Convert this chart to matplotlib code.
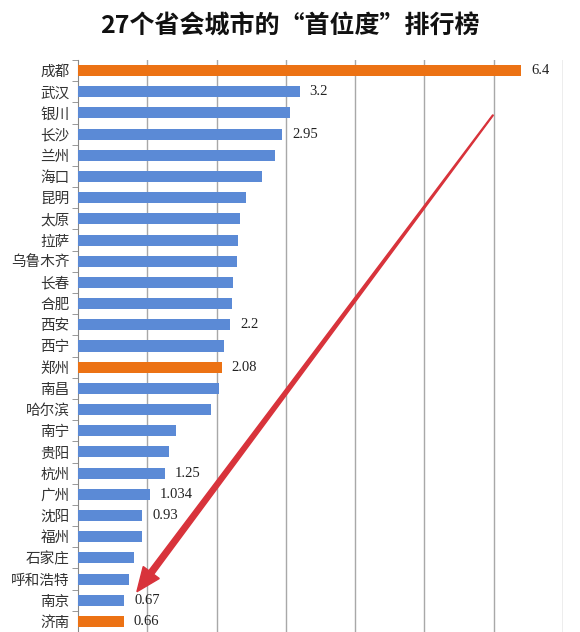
import matplotlib.pyplot as plt
from matplotlib.patches import Polygon
import numpy as np

plt.rcParams['font.family'] = ['Noto Sans CJK SC', 'DejaVu Sans']

cities = ['成都', '武汉', '银川', '长沙', '兰州', '海口', '昆明', '太原', '拉萨',
          '乌鲁木齐', '长春', '合肥', '西安', '西宁', '郑州', '南昌', '哈尔滨',
          '南宁', '贵阳', '杭州', '广州', '沈阳', '福州', '石家庄', '呼和浩特',
          '南京', '济南']
values = [6.4, 3.2, 3.06, 2.95, 2.85, 2.66, 2.42, 2.34, 2.31,
          2.30, 2.24, 2.22, 2.2, 2.10, 2.08, 2.03, 1.92,
          1.41, 1.32, 1.25, 1.034, 0.93, 0.92, 0.81, 0.73,
          0.67, 0.66]
highlight = ['成都', '郑州', '济南']
labels = {'成都': '6.4', '武汉': '3.2', '长沙': '2.95', '西安': '2.2',
          '郑州': '2.08', '杭州': '1.25', '广州': '1.034', '沈阳': '0.93',
          '南京': '0.67', '济南': '0.66'}

blue = '#5b8ad6'
orange = '#ec7214'

fig = plt.figure(figsize=(5.8, 6.32), dpi=100)
ax = fig.add_axes([78 / 580, 0.0, (563 - 78) / 580, 1 - 60 / 632])

y = np.arange(len(cities))
colors = [orange if c in highlight else blue for c in cities]
ax.barh(y, values, height=0.52, color=colors, zorder=3)

for i, (c, v) in enumerate(zip(cities, values)):
    if c in labels:
        ax.text(v + 0.14, i, labels[c], va='center', ha='left', fontsize=10.5,
                family=['Liberation Serif'], color='#222222', zorder=4)

ax.set_xlim(0, 7)
ax.set_ylim(len(cities) - 0.5, -0.5)
ax.set_xticks(np.arange(1, 8))
ax.xaxis.grid(True, color='#a8a8a8', lw=1.0, zorder=0)
ax.tick_params(axis='x', bottom=False, labelbottom=False)

ax.set_yticks(y)
ax.set_yticklabels(cities, fontsize=10.5, color='#333333')
ax.tick_params(axis='y', length=0, pad=6)
ax.set_yticks(np.arange(-0.5, len(cities), 1), minor=True)
ax.tick_params(axis='y', which='minor', length=4, color='#888888')
for s in ['top', 'right', 'bottom']:
    ax.spines[s].set_visible(False)
ax.spines['left'].set_color('#888888')

fig.text(0.5, 1 - 27 / 632, '27个省会城市的“首位度”排行榜', ha='center', va='center',
         fontsize=18, fontweight='heavy', color='#111111')

# red arrow, tapered from thin tail to thick head
fig.canvas.draw()
tail = ax.transData.transform((5.99, 2.1))
tip = ax.transData.transform((0.85, 24.6))
d = tip - tail
u = d / np.hypot(*d)
n = np.array([-u[1], u[0]])
head_len, head_w, w0, w1 = 24, 10, 0.4, 3.0
base = tip - u * head_len
pts = [tail + n * w0, base + n * w1, base + n * head_w, tip,
       base - n * head_w, base - n * w1, tail - n * w0]
fig.patches.append(Polygon(pts, closed=True, transform=None, color='#d8333b',
                           zorder=10))

fig.savefig('out.png', dpi=100)
